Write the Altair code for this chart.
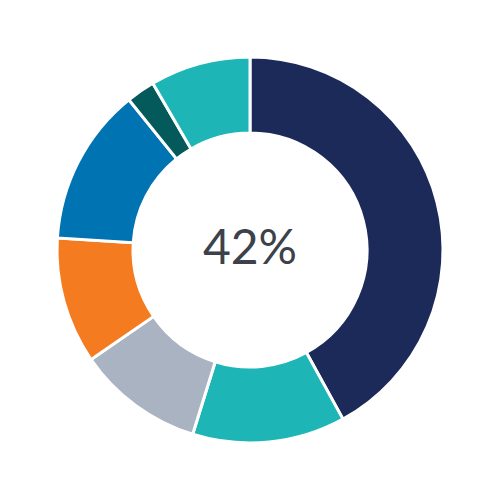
import altair as alt
import pandas as pd

categories = ["A", "B", "C", "D", "E", "F", "G"]
values = [42.0, 12.8, 10.6, 10.6, 13.2, 2.4, 8.4]
colors = ["#1c2a59", "#1eb5b7", "#a9b3c1", "#f47b20", "#0073b3", "#045a5a", "#1eb5b7"]
center_label = "42%"

df = pd.DataFrame({"cat": categories, "value": values, "order": list(range(len(values)))})

arcs = alt.Chart(df).mark_arc(outerRadius=193, innerRadius=117, stroke="white", strokeWidth=3).encode(
    theta=alt.Theta("value:Q", stack=True),
    order=alt.Order("order:Q"),
    color=alt.Color("cat:N", scale=alt.Scale(domain=categories, range=colors), legend=None),
)

text = alt.Chart(pd.DataFrame({"t": [center_label]})).mark_text(
    fontSize=48, font="Lato", color="#3d4149", baseline="middle", align="center"
).encode(text="t:N")

chart = (arcs + text).properties(width=484, height=484, padding=0).configure_view(stroke=None)
chart.save("out.html", embed_options={"renderer": "svg", "actions": False})
